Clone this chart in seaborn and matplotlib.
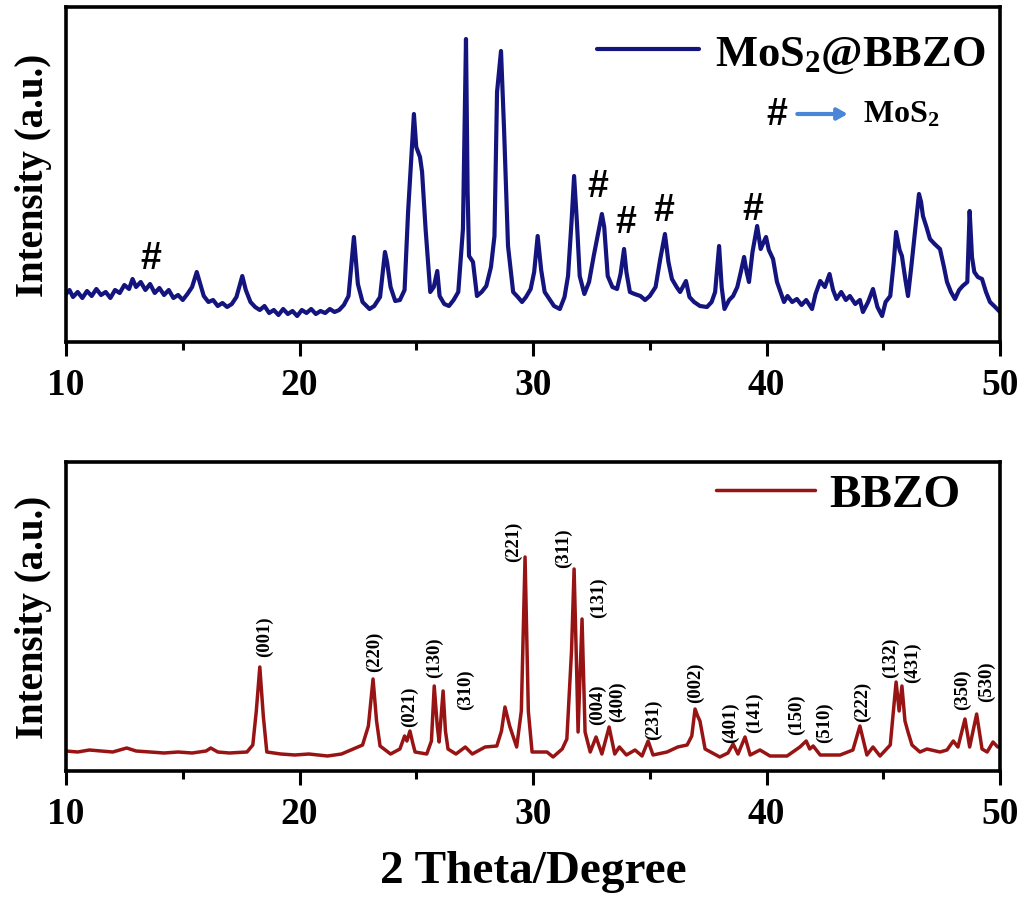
import numpy as np
import pandas as pd
import matplotlib
matplotlib.use("Agg")
import matplotlib.pyplot as plt
from matplotlib.ticker import MultipleLocator
import seaborn as sns

# ---------------- data ----------------
top_theta = [10.0, 10.15, 10.3, 10.5, 10.7, 10.9, 11.1, 11.3, 11.5, 11.7, 11.9, 12.1, 12.3, 12.5, 12.7, 12.85,
             13.0, 13.2, 13.4, 13.6, 13.8, 14.0, 14.2, 14.4, 14.6, 14.8, 15.0, 15.2, 15.4, 15.6, 15.75, 15.9,
             16.1, 16.3, 16.5, 16.7, 16.9, 17.1, 17.3, 17.55, 17.7, 17.9, 18.1, 18.3, 18.5, 18.7, 18.9, 19.1,
             19.3, 19.5, 19.7, 19.9, 20.1, 20.3, 20.5, 20.7, 20.9, 21.1, 21.3, 21.5, 21.7, 21.9, 22.1, 22.33,
             22.5, 22.7, 23.0, 23.2, 23.45, 23.66, 23.75, 23.9, 24.1, 24.3, 24.5, 24.65, 24.9, 25.0, 25.16, 25.25,
             25.4, 25.6, 25.75, 25.9, 26.0, 26.2, 26.4, 26.6, 26.8, 27.0, 27.13, 27.2, 27.26, 27.43, 27.6, 27.8,
             28.0, 28.2, 28.35, 28.46, 28.63, 28.76, 28.93, 29.15, 29.35, 29.53, 29.7, 29.9, 30.05, 30.2, 30.35,
             30.5, 30.7, 30.9, 31.15, 31.35, 31.5, 31.65, 31.76, 31.88, 32.0, 32.2, 32.4, 32.6, 32.8, 32.95, 33.05,
             33.2, 33.4, 33.6, 33.75, 33.9, 34.0, 34.15, 34.35, 34.6, 34.8, 35.0, 35.25, 35.45, 35.65, 35.8, 35.95,
             36.15, 36.3, 36.55, 36.7, 36.9, 37.15, 37.45, 37.65, 37.8, 37.97, 38.08, 38.2, 38.4, 38.57, 38.75,
             38.9, 39.04, 39.15, 39.25, 39.4, 39.6, 39.75, 39.88, 39.98, 40.1, 40.28, 40.45, 40.6, 40.75, 40.9,
             41.1, 41.3, 41.5, 41.7, 41.95, 42.1, 42.3, 42.5, 42.7, 42.85, 43.0, 43.2, 43.4, 43.57, 43.8, 44.0,
             44.13, 44.35, 44.56, 44.75, 44.95, 45.1, 45.3, 45.45, 45.55, 45.7, 45.8, 45.95, 46.06, 46.2, 46.36,
             46.53, 46.62, 46.7, 46.85, 47.0, 47.2, 47.43, 47.6, 47.73, 47.9, 48.07, 48.25, 48.4, 48.6, 48.7,
             48.8, 48.9, 49.05, 49.23, 49.4, 49.57, 49.75, 50.0]
top_intensity = [48, 52, 45, 50, 44, 51, 46, 53, 47, 50, 44, 52, 49, 57, 53, 63,
                 55, 60, 52, 58, 49, 54, 47, 52, 44, 47, 42, 48, 55, 70, 58, 46,
                 40, 42, 36, 39, 35, 38, 45, 66, 52, 40, 35, 32, 36, 29, 32, 27,
                 33, 28, 31, 26, 32, 29, 33, 28, 31, 29, 33, 30, 32, 37, 46, 105,
                 58, 40, 33, 36, 45, 90, 80, 55, 41, 42, 52, 130, 228, 195, 185, 170,
                 113, 50, 55, 71, 46, 38, 36, 42, 50, 113, 303, 150, 86, 80, 46, 50,
                 56, 75, 106, 250, 291, 213, 96, 50, 45, 40, 45, 53, 70, 106, 72,
                 50, 43, 36, 33, 45, 66, 120, 166, 120, 66, 48, 60, 86, 110, 128, 115,
                 66, 55, 53, 68, 93, 70, 50, 48, 46, 42, 46, 55, 83, 108, 80, 63,
                 55, 50, 61, 45, 40, 36, 35, 40, 50, 96, 55, 33, 42, 46, 55,
                 70, 85, 70, 60, 90, 116, 93, 100, 105, 92, 83, 60, 50, 40, 46,
                 40, 43, 37, 42, 33, 48, 61, 55, 68, 52, 43, 50, 42, 46, 38, 42,
                 30, 40, 53, 35, 26, 40, 46, 80, 110, 92, 86, 62, 46, 75, 110,
                 148, 140, 126, 115, 103, 98, 93, 75, 60, 50, 43, 52, 56, 60, 131,
                 85, 70, 65, 63, 50, 40, 36, 30]

bot_theta = [10.0, 10.5, 11.0, 11.5, 12.0, 12.6, 13.0, 13.6, 14.2, 14.8, 15.4, 16.0, 16.2, 16.5, 17.0, 17.75,
             18.0, 18.15, 18.3, 18.45, 18.6, 19.2, 19.8, 20.4, 21.2, 21.8, 22.3, 22.7, 22.95, 23.15, 23.3, 23.45,
             23.9, 24.3, 24.5, 24.6, 24.73, 24.85, 24.95, 25.45, 25.65, 25.77, 25.9, 25.98, 26.15, 26.25, 26.36,
             26.7, 27.1, 27.4, 27.95, 28.45, 28.65, 28.8, 29.0, 29.3, 29.5, 29.66, 29.8, 29.96, 30.3, 30.6, 30.86,
             31.25, 31.45, 31.65, 31.76, 31.87, 31.93, 32.1, 32.23, 32.45, 32.7, 32.95, 33.26, 33.5, 33.7, 34.0,
             34.37, 34.67, 34.93, 35.14, 35.74, 36.2, 36.6, 36.8, 36.94, 37.05, 37.15, 37.37, 38.0, 38.35, 38.57,
             38.78, 39.08, 39.3, 39.72, 40.15, 40.88, 41.43, 41.7, 41.85, 42.0, 42.3, 43.15, 43.7, 44.0, 44.3,
             44.56, 44.86, 45.3, 45.55, 45.68, 45.8, 45.93, 46.06, 46.23, 46.57, 46.87, 47.43, 47.73, 48.0, 48.2,
             48.5, 48.7, 49.0, 49.23, 49.45, 49.7, 49.9]
bot_intensity = [20, 19, 21, 20, 19, 23, 20, 19, 18, 19, 18, 20, 23, 19, 18, 19,
                 26, 60, 104, 55, 19, 17, 16, 17, 15, 17, 22, 26, 45, 92, 50, 25,
                 17, 22, 35, 30, 40, 28, 19, 17, 30, 85, 45, 29, 80, 40, 22,
                 17, 24, 17, 24, 25, 40, 64, 45, 24, 60, 214, 60, 19, 19, 19, 14,
                 22, 32, 120, 202, 100, 39, 152, 39, 19, 34, 17, 44, 17, 24, 16,
                 21, 15, 30, 16, 19, 24, 26, 35, 62, 55, 50, 22, 14, 18, 27,
                 17, 34, 16, 21, 15, 15, 24, 30, 22, 25, 16, 16, 21, 45, 16,
                 24, 15, 26, 89, 60, 85, 50, 39, 26, 19, 22, 19, 21, 30, 24,
                 52, 24, 57, 22, 19, 29, 24]

hkl_labels = ["(001)", "(220)", "(021)", "(130)", "(310)", "(221)", "(311)", "(131)", "(004)", "(400)",
              "(231)", "(002)", "(401)", "(141)", "(150)", "(510)", "(222)", "(132)", "(431)", "(350)", "(530)"]
hkl_theta = [18.5, 23.2, 24.73, 25.8, 27.1, 29.15, 31.3, 32.8, 32.75, 33.6,
             35.15, 36.94, 38.44, 39.5, 41.3, 42.5, 44.13, 45.3, 46.27, 48.4, 49.44]
hkl_level = [115, 100, 45, 94, 62, 210, 204, 154, 47, 50,
             32, 69, 29, 39, 37, 29, 50, 94, 89, 62, 70]

mos2_theta = [13.64, 32.78, 33.98, 35.6, 39.42]
mos2_level = [84, 156, 120, 132, 133]

xticks = [10, 20, 30, 40, 50]

# ---------------- style ----------------
sns.set_theme(style="ticks")
plt.rcParams["font.family"] = ["Liberation Serif", "DejaVu Serif"]
plt.rcParams["font.weight"] = "bold"
plt.rcParams["text.color"] = "black"
plt.rcParams["axes.labelcolor"] = "black"
plt.rcParams["xtick.color"] = "black"
plt.rcParams["ytick.color"] = "black"
plt.rcParams["mathtext.fontset"] = "custom"
plt.rcParams["mathtext.rm"] = "Liberation Serif:bold"
plt.rcParams["mathtext.bf"] = "Liberation Serif:bold"
plt.rcParams["mathtext.it"] = "Liberation Serif:bold:italic"
plt.rcParams["mathtext.default"] = "bf"

navy = "#14147f"
darkred = "#981414"

fig = plt.figure(figsize=(10.25, 9.03), dpi=100)
ax1 = fig.add_axes([66 / 1025, 1 - 343 / 903, 934 / 1025, 335 / 903])
ax2 = fig.add_axes([66 / 1025, 1 - 772 / 903, 934 / 1025, 309 / 903])

df_top = pd.DataFrame({"theta": top_theta, "I": top_intensity})
df_bot = pd.DataFrame({"theta": bot_theta, "I": bot_intensity})

sns.lineplot(data=df_top, x="theta", y="I", ax=ax1, color=navy, lw=3.0,
             label=r"MoS$_2$@BBZO", sort=False)
sns.lineplot(data=df_bot, x="theta", y="I", ax=ax2, color=darkred, lw=2.5,
             label="BBZO", sort=False)

for ax, ymax in ((ax1, 335), (ax2, 309)):
    ax.set_xlim(10, 50)
    ax.set_ylim(0, ymax)
    ax.set_yticks([])
    ax.xaxis.set_major_locator(MultipleLocator(10))
    ax.xaxis.set_minor_locator(MultipleLocator(5))
    ax.set_xticks(xticks)
    ax.tick_params(axis="x", which="major", direction="out", length=10, width=2.2,
                   labelsize=27, pad=8, top=False, colors="black")
    ax.tick_params(axis="x", which="minor", direction="out", length=6, width=2.2, top=False,
                   colors="black")
    for lab in ax.get_xticklabels():
        lab.set_fontweight("bold")
    for sp in ax.spines.values():
        sp.set_linewidth(2.6)
        sp.set_color("black")
    ax.set_ylabel("Intensity (a.u.)", fontsize=28, fontweight="bold", labelpad=10, color="black")
    ax.set_xlabel("")

ax2.set_xlabel("2 Theta/Degree", fontsize=34, fontweight="bold", labelpad=14, color="black")

leg1 = ax1.legend(loc="upper right", bbox_to_anchor=(1.013, 1.0), frameon=False,
                  fontsize=32, handlelength=2.3, handletextpad=0.35, borderaxespad=0.2)
for t in leg1.get_texts():
    t.set_fontweight("bold")
    t.set_color("black")
leg2 = ax2.legend(loc="upper right", bbox_to_anchor=(0.978, 1.025), frameon=False,
                  fontsize=34, handlelength=2.1, handletextpad=0.3, borderaxespad=0.0)
for t in leg2.get_texts():
    t.set_fontweight("bold")
    t.set_color("black")

# MoS2 markers
for th, lv in zip(mos2_theta, mos2_level):
    ax1.text(th, lv, "#", ha="center", va="center", fontsize=27, fontweight="bold",
             family=["Liberation Sans", "DejaVu Sans"], color="black")
ax1.text(40.45, 228, "#", ha="center", va="center", fontsize=27, fontweight="bold",
         family=["Liberation Sans", "DejaVu Sans"], color="black")
ax1.annotate("", xy=(43.6, 228), xytext=(41.2, 228),
             arrowprops=dict(arrowstyle="-|>,head_length=0.5,head_width=0.28",
                             color="#4a86d8", lw=3))
ax1.text(44.15, 228, r"MoS$_2$", ha="left", va="center", fontsize=23, fontweight="bold",
         color="black")

# hkl labels
for lab, th, lv in zip(hkl_labels, hkl_theta, hkl_level):
    ax2.text(th, lv, lab, rotation=90, ha="center", va="bottom", fontsize=13.5,
             fontweight="bold", color="black")

fig.savefig("out.png", dpi=100)
